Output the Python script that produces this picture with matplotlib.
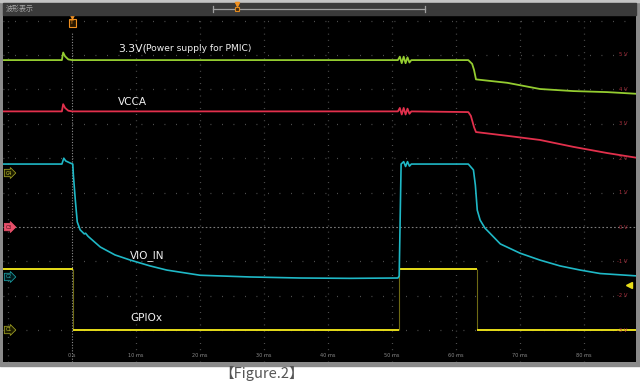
import matplotlib
matplotlib.use('Agg')
import matplotlib.pyplot as plt
from matplotlib.patches import Rectangle
from matplotlib.lines import Line2D
import matplotlib.transforms as mtransforms

# time axis in ms, vertical in screen volts (right-hand scale)
t_green = [-10.8, -1.6, -1.4, -1.1, -0.6, 0.0, 50.9, 51.2, 51.5, 51.8, 52.1, 52.4, 52.7, 53.0,
           61.9, 62.5, 62.8, 63.1, 68.0, 73.1, 78.3, 83.6, 88.3]
v_green = [4.85, 4.85, 5.07, 4.96, 4.87, 4.85, 4.85, 4.95, 4.76, 4.95, 4.76, 4.93, 4.78, 4.85,
           4.85, 4.74, 4.56, 4.29, 4.19, 4.01, 3.95, 3.92, 3.87]

t_red = [-10.8, -1.6, -1.4, -1.1, -0.6, 0.0, 50.9, 51.2, 51.5, 51.8, 52.1, 52.4, 52.7, 53.0,
         61.9, 62.3, 62.8, 63.1, 68.0, 73.1, 78.3, 83.6, 88.3]
v_red = [3.36, 3.36, 3.57, 3.46, 3.38, 3.36, 3.36, 3.46, 3.27, 3.46, 3.27, 3.44, 3.29, 3.36,
         3.34, 3.23, 2.90, 2.76, 2.65, 2.53, 2.33, 2.15, 2.01]

t_cyan = [-10.8, -1.6, -1.3, -1.0, -0.3, 0.1, 0.2, 0.5, 0.8, 1.25, 1.9, 2.1, 2.5, 4.4, 6.7, 9.1,
          12.2, 14.8, 20.0, 27.8, 35.6, 43.4, 50.9, 51.1, 51.4, 51.8, 52.1, 52.4, 52.7, 53.0,
          61.9, 62.7, 63.0, 63.3, 63.75, 64.5, 66.9, 70.0, 73.1, 76.25, 79.4, 82.5, 88.3]
v_cyan = [1.83, 1.83, 2.0, 1.92, 1.86, 1.83, 1.5, 0.78, 0.15, -0.08, -0.2, -0.18, -0.27, -0.58,
          -0.81, -0.96, -1.13, -1.25, -1.40, -1.45, -1.48, -1.49, -1.48, -1.42, 1.83, 1.9, 1.76,
          1.9, 1.77, 1.83, 1.83, 1.66, 1.22, 0.49, 0.2, -0.03, -0.49, -0.76, -0.96, -1.13, -1.25,
          -1.35, -1.42]

gpio_edges = [-10.8, 0.1, 51.0, 63.2, 88.3]
gpio_levels = [-1.22, -2.99, -1.22, -2.99]

time_ticks = [0, 10, 20, 30, 40, 50, 60, 70, 80]
time_labels = ['0 s', '10 ms', '20 ms', '30 ms', '40 ms', '50 ms', '60 ms', '70 ms', '80 ms']
volt_ticks = [5, 4, 3, 2, 1, 0, -1, -2, -3]
volt_labels = ['5 V', '4 V', '3 V', '2 V', '1 V', '0 V', '-1 V', '-2 V', '-3 V']

tag_names = ['C4', 'C3', 'C2', 'C1']
tag_levels = [1.57, 0.0, -1.45, -2.99]

W, H = 640, 389
fig = plt.figure(figsize=(6.4, 3.89), dpi=100)
fig.patch.set_facecolor('white')


def fx(x):
    return x / W


def fy(y):
    return 1 - y / H


# scope window frame and title bar
fig.add_artist(Rectangle((0, fy(366)), 1, 366 / H, transform=fig.transFigure,
                         color='#8a8a8a', zorder=0))
fig.add_artist(Rectangle((0, fy(2)), 1, 2 / H, transform=fig.transFigure,
                         color='#c4c4c4', zorder=0))
fig.add_artist(Rectangle((fx(3), fy(15)), 633 / W, 12 / H, transform=fig.transFigure,
                         color='#3a3a3a', zorder=1))
fig.text(fx(6), fy(8.5), '波形表示', color='#a8a8a8', fontsize=5, va='center',
         family=['Noto Sans CJK JP', 'DejaVu Sans'])
fig.add_artist(Line2D([fx(213), fx(425)], [fy(8.5), fy(8.5)], transform=fig.transFigure,
                      color='#a0a0a0', lw=0.9))
for xb in (213, 425):
    fig.add_artist(Line2D([fx(xb), fx(xb)], [fy(5.5), fy(11.5)], transform=fig.transFigure,
                          color='#a0a0a0', lw=0.9))
fig.add_artist(Line2D([fx(237)], [fy(8.5)], transform=fig.transFigure, marker='s',
                      markersize=3.5, mfc='#4a3010', mec='#e08a20', mew=0.8))
fig.add_artist(Line2D([fx(237)], [fy(3.5)], transform=fig.transFigure, marker='v',
                      markersize=3, color='#f09020'))

ax = fig.add_axes([fx(3), fy(362), 633 / W, 347 / H])
ax.set_facecolor('black')
ax.set_xlim(-10.8, 88.1)
ax.set_ylim(-3.92, 6.16)
ax.set_xticks([])
ax.set_yticks([])
for s in ax.spines.values():
    s.set_visible(False)

# dotted graticule
for g in range(-10, 90, 10):
    if g != 0:
        ax.axvline(g, color='#5a5a5a', lw=0.9, ls=(0, (0.7, 4.25)), zorder=1)
for g in range(-3, 7):
    if g != 0:
        ax.axhline(g, color='#5a5a5a', lw=0.9, ls=(0, (0.7, 8.5)), zorder=1)
ax.axhline(0, color='#7c7c7c', lw=0.8, ls=(0, (1.5, 2.0)), zorder=1)
ax.plot([0, 0], [-3.92, 5.65], color='#8c8c8c', lw=0.8, ls=(0, (1.0, 1.5)), zorder=1)

# GPIOx (yellow)
for i, lvl in enumerate(gpio_levels):
    ax.hlines(lvl, gpio_edges[i], gpio_edges[i + 1], color='#e8de1a', lw=1.4, zorder=3)
for i in range(1, len(gpio_edges) - 1):
    ax.vlines(gpio_edges[i], min(gpio_levels), max(gpio_levels), color='#6e6a14', lw=0.8, zorder=2)

ax.plot(t_cyan, v_cyan, color='#1fb8c6', lw=1.2, zorder=4)
ax.plot(t_red, v_red, color='#e2304c', lw=1.3, zorder=4)
ax.plot(t_green, v_green, color='#94cc30', lw=1.3, zorder=4)

# trace names
txt = dict(color='#f0f0f0', va='center', ha='left', zorder=6)
ax.text(7.2, 5.20, '3.3V(', fontsize=7.8, **txt)
ax.text(11.6, 5.20, 'Power supply for PMIC)', fontsize=6.6, **txt)
ax.text(7.2, 3.63, 'VCCA', fontsize=7.6, **txt)
ax.text(9.1, -0.84, 'VIO_IN', fontsize=7.6, **txt)
ax.text(9.1, -2.63, 'GPIOx', fontsize=7.6, **txt)

# scale labels
for v, lab in zip(volt_ticks, volt_labels):
    ax.text(0.986, v, lab, transform=ax.get_yaxis_transform(), ha='right', va='center',
            fontsize=3.8, color='#b0303f', zorder=5)
bt = mtransforms.blended_transform_factory(ax.transData, ax.transAxes)
for t, lab in zip(time_ticks, time_labels):
    ax.text(t, 0.018, lab, transform=bt, ha='center', va='center', fontsize=3.6,
            color='#8a8a8a', zorder=5)

# channel tags on the left edge
tag_style = {
    'C4': ('#1c1c00', '#9a9a22', '#c8c830'),
    'C3': ('#e8506a', '#e8506a', '#3a0a14'),
    'C2': ('#001a1c', '#1a9aa0', '#30b0b8'),
    'C1': ('#1c1c00', '#9a9a22', '#c8c830'),
}
for name, lvl in zip(tag_names, tag_levels):
    fc, ec, tc = tag_style[name]
    ax.text(0.004, lvl, name, transform=ax.get_yaxis_transform(), ha='left', va='center',
            fontsize=3.4, color=tc, zorder=6,
            bbox=dict(boxstyle='rarrow,pad=0.25', fc=fc, ec=ec, lw=0.6))

# trigger flag and ground arrow
ax.text(0, 5.93, 'T', ha='center', va='center', fontsize=4.5, color='#f09020', zorder=6,
        bbox=dict(boxstyle='square,pad=0.25', fc='#2a1800', ec='#f09020', lw=0.8))
ax.plot([0], [6.12], marker='v', markersize=3.5, color='#f09020', zorder=6, clip_on=False)
ax.plot([87.0], [-1.69], marker='<', markersize=4.5, color='#e8de1a', zorder=6)

fig.text(fx(262), fy(373), '【Figure.2】', ha='center', va='center', fontsize=10.5,
         color='#555555', family=['Noto Sans CJK JP', 'DejaVu Sans'])

fig.savefig('out.png', dpi=100, facecolor='white')
